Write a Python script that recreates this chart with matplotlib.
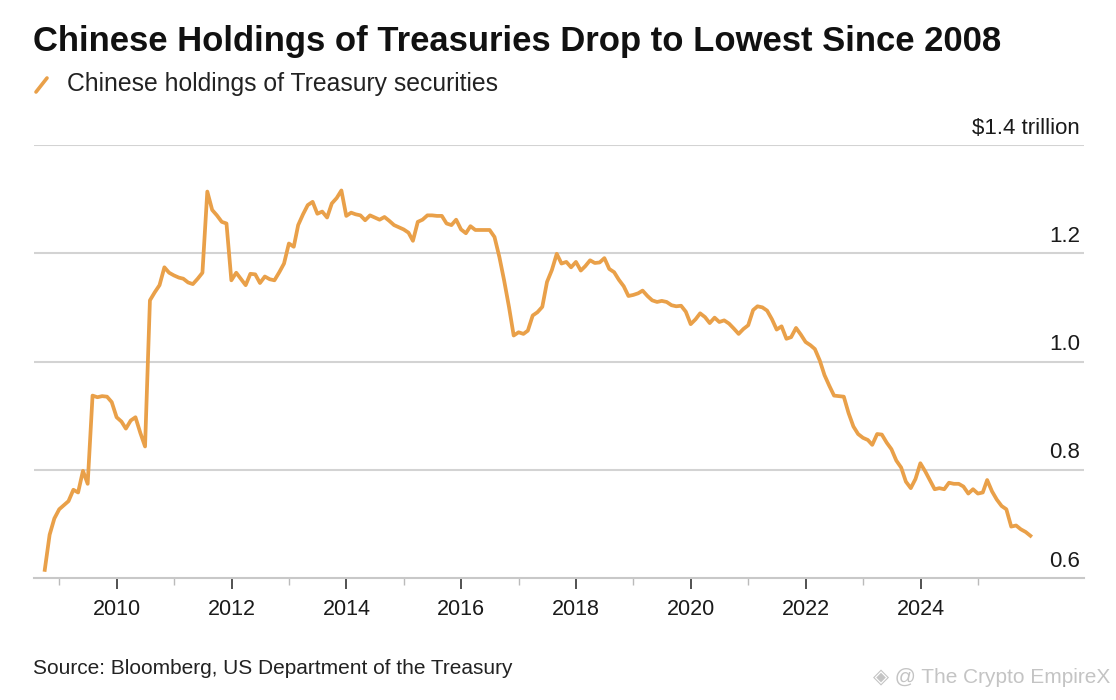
import matplotlib.pyplot as plt
import matplotlib.transforms as mtransforms
import pandas as pd
from matplotlib.lines import Line2D

plt.rcParams['font.family'] = ['Liberation Sans', 'DejaVu Sans']

# Chinese holdings of US Treasuries, $ trillion, month-end (Sep 2008 - Nov 2025)
h2008 = [0.615, 0.680, 0.710, 0.727]
h2009 = [0.735, 0.742, 0.763, 0.758, 0.798, 0.774, 0.937, 0.934, 0.936, 0.935, 0.925, 0.897]
h2010 = [0.889, 0.876, 0.891, 0.897, 0.868, 0.843, 1.113, 1.128, 1.141, 1.174, 1.164, 1.159]
h2011 = [1.155, 1.153, 1.146, 1.143, 1.153, 1.164, 1.314, 1.280, 1.270, 1.258, 1.255, 1.150]
h2012 = [1.164, 1.153, 1.141, 1.162, 1.161, 1.145, 1.157, 1.152, 1.150, 1.165, 1.181, 1.218]
h2013 = [1.212, 1.252, 1.272, 1.289, 1.295, 1.273, 1.277, 1.266, 1.292, 1.302, 1.316, 1.269]
h2014 = [1.275, 1.272, 1.270, 1.261, 1.270, 1.266, 1.262, 1.267, 1.260, 1.252, 1.248, 1.244]
h2015 = [1.238, 1.223, 1.258, 1.262, 1.270, 1.270, 1.269, 1.269, 1.255, 1.252, 1.262, 1.244]
h2016 = [1.237, 1.250, 1.243, 1.243, 1.243, 1.243, 1.230, 1.193, 1.150, 1.101, 1.048, 1.054]
h2017 = [1.051, 1.057, 1.085, 1.091, 1.101, 1.147, 1.169, 1.199, 1.181, 1.184, 1.174, 1.184]
h2018 = [1.168, 1.176, 1.187, 1.182, 1.183, 1.191, 1.171, 1.165, 1.151, 1.139, 1.121, 1.123]
h2019 = [1.126, 1.131, 1.121, 1.113, 1.110, 1.112, 1.110, 1.104, 1.102, 1.103, 1.092, 1.069]
h2020 = [1.078, 1.089, 1.082, 1.071, 1.081, 1.073, 1.076, 1.070, 1.061, 1.051, 1.060, 1.067]
h2021 = [1.095, 1.102, 1.100, 1.094, 1.078, 1.059, 1.065, 1.042, 1.045, 1.062, 1.050, 1.036]
h2022 = [1.030, 1.023, 1.002, 0.975, 0.955, 0.937, 0.936, 0.935, 0.905, 0.880, 0.866, 0.859]
h2023 = [0.855, 0.846, 0.866, 0.865, 0.850, 0.838, 0.817, 0.804, 0.778, 0.766, 0.783, 0.812]
h2024 = [0.797, 0.781, 0.764, 0.766, 0.764, 0.776, 0.774, 0.774, 0.769, 0.756, 0.764, 0.756]
h2025 = [0.758, 0.781, 0.760, 0.745, 0.733, 0.727, 0.695, 0.697, 0.690, 0.685, 0.678]

holdings = (h2008 + h2009 + h2010 + h2011 + h2012 + h2013 + h2014 + h2015 + h2016
            + h2017 + h2018 + h2019 + h2020 + h2021 + h2022 + h2023 + h2024 + h2025)
dates = pd.date_range('2008-09-30', periods=len(holdings), freq='ME')

y_ticks = [0.6, 0.8, 1.0, 1.2, 1.4]
y_labels = ['0.6', '0.8', '1.0', '1.2', '$1.4 trillion']
label_years = [2010, 2012, 2014, 2016, 2018, 2020, 2022, 2024]
minor_years = [2009, 2011, 2013, 2015, 2017, 2019, 2021, 2023, 2025]

orange = '#E9A049'
grid_gray = '#d3d3d3'

fig = plt.figure(figsize=(11.16, 7.0), dpi=100)
fig.patch.set_facecolor('white')
ax = fig.add_axes([33.6 / 1116, 1 - 578 / 700, (1084 - 33.6) / 1116, (578 - 145) / 700])

ax.plot(dates, holdings, color=orange, lw=2.7, solid_joinstyle='round', zorder=3)

# gridlines
for v in y_ticks[1:]:
    ax.axhline(v, color=grid_gray, lw=1.5, zorder=1)
ax.set_yticks([])

for s in ['top', 'right', 'left']:
    ax.spines[s].set_visible(False)
ax.spines['bottom'].set_color('#c8c8c8')
ax.spines['bottom'].set_linewidth(1.5)

# x ticks: labels at even years, minor ticks at odd years
ax.set_xticks([pd.Timestamp(f'{y}-01-01') for y in label_years])
ax.set_xticklabels([str(y) for y in label_years])
ax.set_xticks([pd.Timestamp(f'{y}-01-01') for y in minor_years], minor=True)
ax.tick_params(axis='x', which='major', length=8, width=1.2, color='#333333',
               labelsize=15.5, labelcolor='#1a1a1a', pad=7)
ax.tick_params(axis='x', which='minor', length=5, width=1.0, color='#bbbbbb')

ax.set_ylim(0.6, 1.4)
ax.set_xlim(pd.Timestamp('2008-07-21'), pd.Timestamp('2026-11-06'))

# right-side labels sitting above their gridlines
offset = mtransforms.offset_copy(ax.get_yaxis_transform(), fig=fig, x=-3, y=4.5, units='points')
for v, lab in zip(y_ticks, y_labels):
    ax.text(1.0, v, lab, transform=offset, ha='right', va='bottom',
            fontsize=16, color='#1a1a1a')

# title, legend, source
fig.text(33 / 1116, 1 - 51 / 700, 'Chinese Holdings of Treasuries Drop to Lowest Since 2008',
         fontsize=24.9, fontweight='bold', color='#111111', va='baseline')
fig.add_artist(Line2D([36 / 1116, 47 / 1116], [1 - 92 / 700, 1 - 78 / 700],
                      color=orange, lw=2.6, solid_capstyle='round'))
fig.text(67 / 1116, 1 - 91 / 700, 'Chinese holdings of Treasury securities',
         fontsize=17.8, color='#222222', va='baseline')
fig.text(33 / 1116, 1 - 674 / 700, 'Source: Bloomberg, US Department of the Treasury',
         fontsize=15, color='#222222', va='baseline')
fig.text(1110 / 1116, 1 - 683 / 700, '◈ @ The Crypto EmpireX',
         fontsize=15, color='#c4c4c4', ha='right', va='baseline')

fig.savefig('out.png', dpi=100)
